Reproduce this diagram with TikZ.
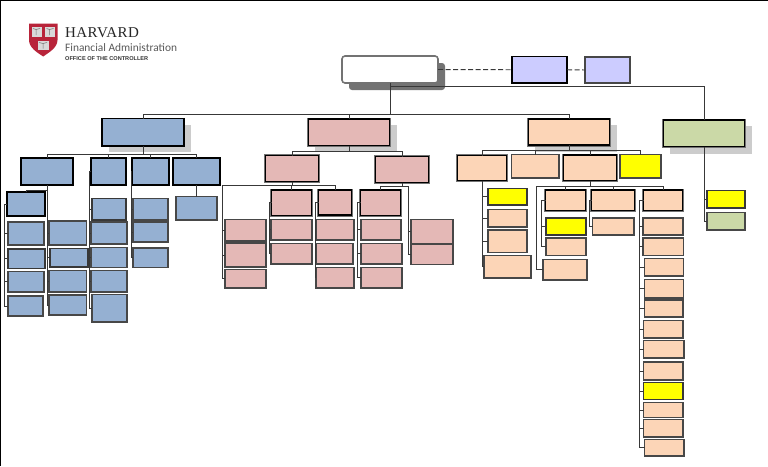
\documentclass[tikz,border=0pt]{standalone}
\usepackage{fontspec}
\setmainfont{Liberation Serif}
\newfontfamily\lsans{Carlito}
\newfontfamily\lbold{Liberation Sans}
\usetikzlibrary{calc}
\definecolor{bl}{HTML}{95B0D2}
\definecolor{pk}{HTML}{E4B8B6}
\definecolor{og}{HTML}{FCD5B7}
\definecolor{yl}{HTML}{FFFF00}
\definecolor{gn}{HTML}{CBD9A7}
\definecolor{lv}{HTML}{CCCCFF}
\definecolor{cr}{HTML}{B8243A}
\tikzset{
 x=1pt,y=-1pt,
 cbox/.style={rectangle,inner sep=0pt,outer sep=0pt},
 thin box/.style={cbox,draw=black!72,line width=1.25pt},
 mid box/.style={cbox,draw=black!78,line width=1.25pt},
 heavy box/.style={cbox,draw=black,line width=1.6pt},
 fringe box/.style={cbox,draw=black,line width=1.5pt,preaction={draw=black!55,line width=3pt}},
 conn/.style={draw=black!78,line width=.95pt},
 softshade/.style={fill=black!20},
}
% name x1 y1 x2 y2 style
\newcommand\bx[6]{%
 \pgfmathsetmacro\bw{#4-#2}\pgfmathsetmacro\bh{#5-#3}%
 \pgfmathsetmacro\bcx{(#4+#2)/2}\pgfmathsetmacro\bcy{(#5+#3)/2}%
 \node[#6,minimum width=\bw pt,minimum height=\bh pt] (#1) at (\bcx,\bcy) {};}
\newcommand\tree[3]{\draw[conn] (#1.south) -- (#1.south |- 0,#2) -| (#3.north);}
\newcommand\sdn[2]{\draw[conn] (#1.south) |- (#2.west);}
\newcommand\lft[3]{\draw[conn] (#1.west) -- (#1.west -| #2,0) |- (#3.west);}
\newcommand\via[3]{\draw[conn] (#1.south) |- (#2) |- (#3.west);}
\begin{document}
\begin{tikzpicture}
\useasboundingbox (0,0) rectangle (768,466);
\fill[white] (0,0) rectangle (768,466);
\draw[black,line width=1.6pt] (0.5,466) -- (0.5,0.5) -- (768,0.5);
% logo
\begin{scope}
\fill[cr] (29,23.5) -- (57.5,23.5) -- (57.5,40) .. controls (57.5,48) and (48,53) .. (43.2,56.5) .. controls (38,53) and (29,48) .. (29,40) -- cycle;
\fill[black!15] (31.5,27) rectangle (41.5,36.5);
\fill[black!15] (45,27) rectangle (55,36.5);
\fill[black!15] (37.5,41) rectangle (48.5,49.5);
\draw[black!55,line width=.5pt] (33,28.5) -- (36,29.5) -- (40,28.5) (36,29.5) -- (36,35) (46.5,28.5) -- (49.5,29.5) -- (53.5,28.5) (49.5,29.5) -- (49.5,35) (39,42.5) -- (43,43.5) -- (47,42.5) (43,43.5) -- (43,48.5);
\end{scope}
\node[anchor=base west,inner sep=0pt,text=black!85] (lgA) at (65,37.2) {\addfontfeatures{LetterSpace=3}\fontsize{15}{16}\selectfont HARVARD};
\node[anchor=base west,inner sep=0pt,text=black!65] (lgB) at (65,51) {\lsans\fontsize{11.4}{12}\selectfont Financial Administration};
\node[anchor=base west,inner sep=0pt,text=black!80] (lgC) at (65,60.8) {\lbold\bfseries\fontsize{5.6}{6}\selectfont OFFICE OF THE CONTROLLER};
% shadows
\fill[black!55,rounded corners=3pt] (349,63) rectangle (445,90);
\fill[softshade] (109,125) rectangle (191,152);
\fill[softshade] (315,125) rectangle (397,152);
\fill[softshade] (535,125) rectangle (617,152);
\fill[softshade] (670,126) rectangle (752,154);
% top
\node[rectangle,rounded corners=3pt,draw=black!55,line width=1.6pt,fill=white,inner sep=0pt,outer sep=0pt,minimum width=96pt,minimum height=27pt] (root) at (390,69.5) {};
\bx{adA}{512}{56.5}{567}{83}{heavy box,fill=lv}
\bx{adB}{585}{57}{630}{83}{thin box,fill=lv}
\bx{blT}{102}{118.5}{184}{146}{heavy box,fill=bl}
\bx{pkT}{308.5}{119}{389.5}{145.5}{fringe box,fill=pk}
\bx{ogT}{528.5}{119}{609.5}{145}{fringe box,fill=og}
\bx{gnT}{663.5}{120}{744.5}{146.5}{fringe box,fill=gn}
% blue
\bx{bA}{21}{158}{73}{185}{heavy box,fill=bl}
\bx{bB}{91}{158}{126}{185}{heavy box,fill=bl}
\bx{bC}{132}{158}{169}{185}{heavy box,fill=bl}
\bx{bD}{173}{158}{220}{185}{heavy box,fill=bl}
\bx{bAa}{7}{192}{45}{216}{heavy box,fill=bl}
\bx{ba1}{8}{222}{44}{245}{thin box,fill=bl}
\bx{ba2}{8}{249}{45}{268.5}{mid box,fill=bl}
\bx{ba3}{8}{271.5}{44}{292}{thin box,fill=bl}
\bx{ba4}{8}{296}{43}{316}{thin box,fill=bl}
\bx{bb1}{49}{221}{86.5}{245}{thin box,fill=bl}
\bx{bb2}{50}{248.5}{88}{267}{mid box,fill=bl}
\bx{bb3}{49}{270.5}{86.5}{292}{thin box,fill=bl}
\bx{bb4}{49}{295}{86.5}{315}{thin box,fill=bl}
\bx{bc1}{92}{198.5}{126}{220}{mid box,fill=bl}
\bx{bc2}{91}{222}{127}{244}{thin box,fill=bl}
\bx{bc3}{91}{247.5}{127}{267.5}{thin box,fill=bl}
\bx{bc4}{91}{270.5}{127}{292}{thin box,fill=bl}
\bx{bc5}{92}{294.5}{127}{322}{thin box,fill=bl}
\bx{bd1}{133}{198.5}{168}{220}{thin box,fill=bl}
\bx{bd2}{133}{222}{168}{242}{thin box,fill=bl}
\bx{bd3}{133}{248}{168}{267.5}{thin box,fill=bl}
\bx{be1}{176}{196.5}{217}{220}{thin box,fill=bl}
% pink
\bx{pA}{265.5}{155.5}{318.5}{181.5}{fringe box,fill=pk}
\bx{pB}{375.5}{156.5}{428.5}{182.5}{fringe box,fill=pk}
\bx{pa1}{225}{219.5}{266}{241}{thin box,fill=pk}
\bx{pa2}{225}{243}{266}{267}{thin box,fill=pk}
\bx{pa3}{225}{269.5}{266}{288}{thin box,fill=pk}
\bx{pAa}{271.5}{190}{311.5}{215.5}{fringe box,fill=pk}
\bx{pAb}{318.5}{190}{351.5}{215}{fringe box,fill=pk}
\bx{pb1}{271}{219.5}{312}{240}{thin box,fill=pk}
\bx{pb2}{271}{243.5}{312}{264}{thin box,fill=pk}
\bx{pc1}{316}{219.5}{354}{240}{thin box,fill=pk}
\bx{pc2}{316}{243.5}{353}{264}{thin box,fill=pk}
\bx{pc3}{316}{267.5}{354}{288}{thin box,fill=pk}
\bx{pBa}{360.5}{190}{400.5}{215.5}{fringe box,fill=pk}
\bx{pd1}{361}{219.5}{401}{240}{thin box,fill=pk}
\bx{pd2}{361}{243.5}{402}{264}{thin box,fill=pk}
\bx{pd3}{361}{267.5}{402}{288}{thin box,fill=pk}
\bx{pe1}{411}{219.5}{453}{243.5}{thin box,fill=pk}
\bx{pe2}{411}{244}{453}{264.5}{thin box,fill=pk}
% orange
\bx{oA}{457.5}{155.5}{506.5}{180.5}{fringe box,fill=og}
\bx{oB}{511.5}{154.5}{559}{178}{thin box,fill=og}
\bx{oC}{563.5}{155}{616.5}{180.5}{fringe box,fill=og}
\bx{oD}{620}{154.5}{661}{178}{thin box,fill=yl}
\bx{oa1}{488}{188.5}{527}{205}{mid box,fill=yl}
\bx{oa2}{488}{209.5}{527}{227}{thin box,fill=og}
\bx{oa3}{488}{230}{527}{252.5}{thin box,fill=og}
\bx{oa4}{484}{255.5}{531}{278}{thin box,fill=og}
\bx{oCa}{545.5}{190}{585.5}{210.5}{fringe box,fill=og}
\bx{oCb}{591.5}{190}{634.5}{210.5}{fringe box,fill=og}
\bx{oCc}{643.5}{190}{682.5}{210.5}{fringe box,fill=og}
\bx{oCd}{543}{259.5}{587}{280}{thin box,fill=og}
\bx{ob1}{546}{218}{586}{235}{mid box,fill=yl}
\bx{ob2}{546}{238}{586}{255.5}{thin box,fill=og}
\bx{oc1}{592.5}{218}{634}{235}{thin box,fill=og}
\bx{od1}{643}{218}{683}{235}{thin box,fill=og}
\bx{od2}{643}{238}{683.5}{255.5}{thin box,fill=og}
\bx{od3}{644.5}{258.5}{683.5}{276}{thin box,fill=og}
\bx{od4}{644.5}{279.5}{683.5}{298}{thin box,fill=og}
\bx{od5}{644.5}{300}{683}{317}{thin box,fill=og}
\bx{od6}{643.5}{320.5}{683}{338}{thin box,fill=og}
\bx{od7}{643.5}{340.5}{684}{358}{thin box,fill=og}
\bx{od8}{643.5}{362}{683}{380}{thin box,fill=og}
\bx{od9}{643.5}{382.5}{683}{399.5}{mid box,fill=yl}
\bx{od10}{643.5}{402.5}{683}{417.5}{thin box,fill=og}
\bx{od11}{643.5}{419.5}{683}{437}{thin box,fill=og}
\bx{od12}{644.5}{439.5}{684}{456}{thin box,fill=og}
% green
\bx{ga1}{707}{190.5}{745}{208}{mid box,fill=yl}
\bx{ga2}{707}{212.5}{745}{230}{thin box,fill=gn}
% connectors
\draw[conn,dashed,dash pattern=on 5pt off 2.5pt] (root.east) -- (adA.west);
\draw[conn,dashed,dash pattern=on 5pt off 2.5pt] (adA.east) -- (adB.west);
\coordinate (gnBar) at (704,86.5);
\draw[conn] (root.south) |- (gnBar) -- (gnT.north);
\foreach \c in {blT,pkT,ogT}{\tree{root}{114}{\c}}
\foreach \c in {bA,bB,bC,bD}{\tree{blT}{154.5}{\c}}
\tree{bA}{190}{bAa}
\foreach \c in {bb1,bb2,bb3,bb4}{\sdn{bA}{\c}}
\foreach \c in {ba1,ba2,ba3,ba4}{\lft{bAa}{4}{\c}}
\foreach \c in {bc1,bc2,bc3,bc4,bc5}{\lft{bB}{89}{\c}}
\foreach \c in {bd1,bd2,bd3}{\lft{bC}{131}{\c}}
\draw[conn] (bD.south) -- (be1.north);
\foreach \c in {pA,pB}{\tree{pkT}{151.5}{\c}}
\coordinate (pAt) at (222,185);
\foreach \c in {pa1,pa2,pa3}{\via{pA}{pAt}{\c}}
\foreach \c in {pAa,pAb}{\tree{pA}{185}{\c}}
\foreach \c in {pb1,pb2}{\lft{pAa}{269.5}{\c}}
\foreach \c in {pc1,pc2,pc3}{\lft{pAb}{315}{\c}}
\tree{pB}{186.5}{pBa}
\coordinate (pBt) at (408.5,186.5);
\foreach \c in {pe1,pe2}{\via{pB}{pBt}{\c}}
\foreach \c in {pd1,pd2,pd3}{\lft{pBa}{357}{\c}}
\foreach \c in {oA,oB,oC,oD}{\tree{ogT}{150.5}{\c}}
\foreach \c in {oa1,oa2,oa3,oa4}{\sdn{oA}{\c}}
\foreach \c in {oCa,oCb,oCc}{\tree{oC}{186}{\c}}
\coordinate (oCt) at (536.5,186);
\via{oC}{oCt}{oCd}
\foreach \c in {ob1,ob2}{\lft{oCa}{541}{\c}}
\lft{oCb}{589}{oc1}
\foreach \c in {od1,od2,od3,od4,od5,od6,od7,od8,od9,od10,od11,od12}{\lft{oCc}{639}{\c}}
\foreach \c in {ga1,ga2}{\sdn{gnT}{\c}}
\end{tikzpicture}
\end{document}
